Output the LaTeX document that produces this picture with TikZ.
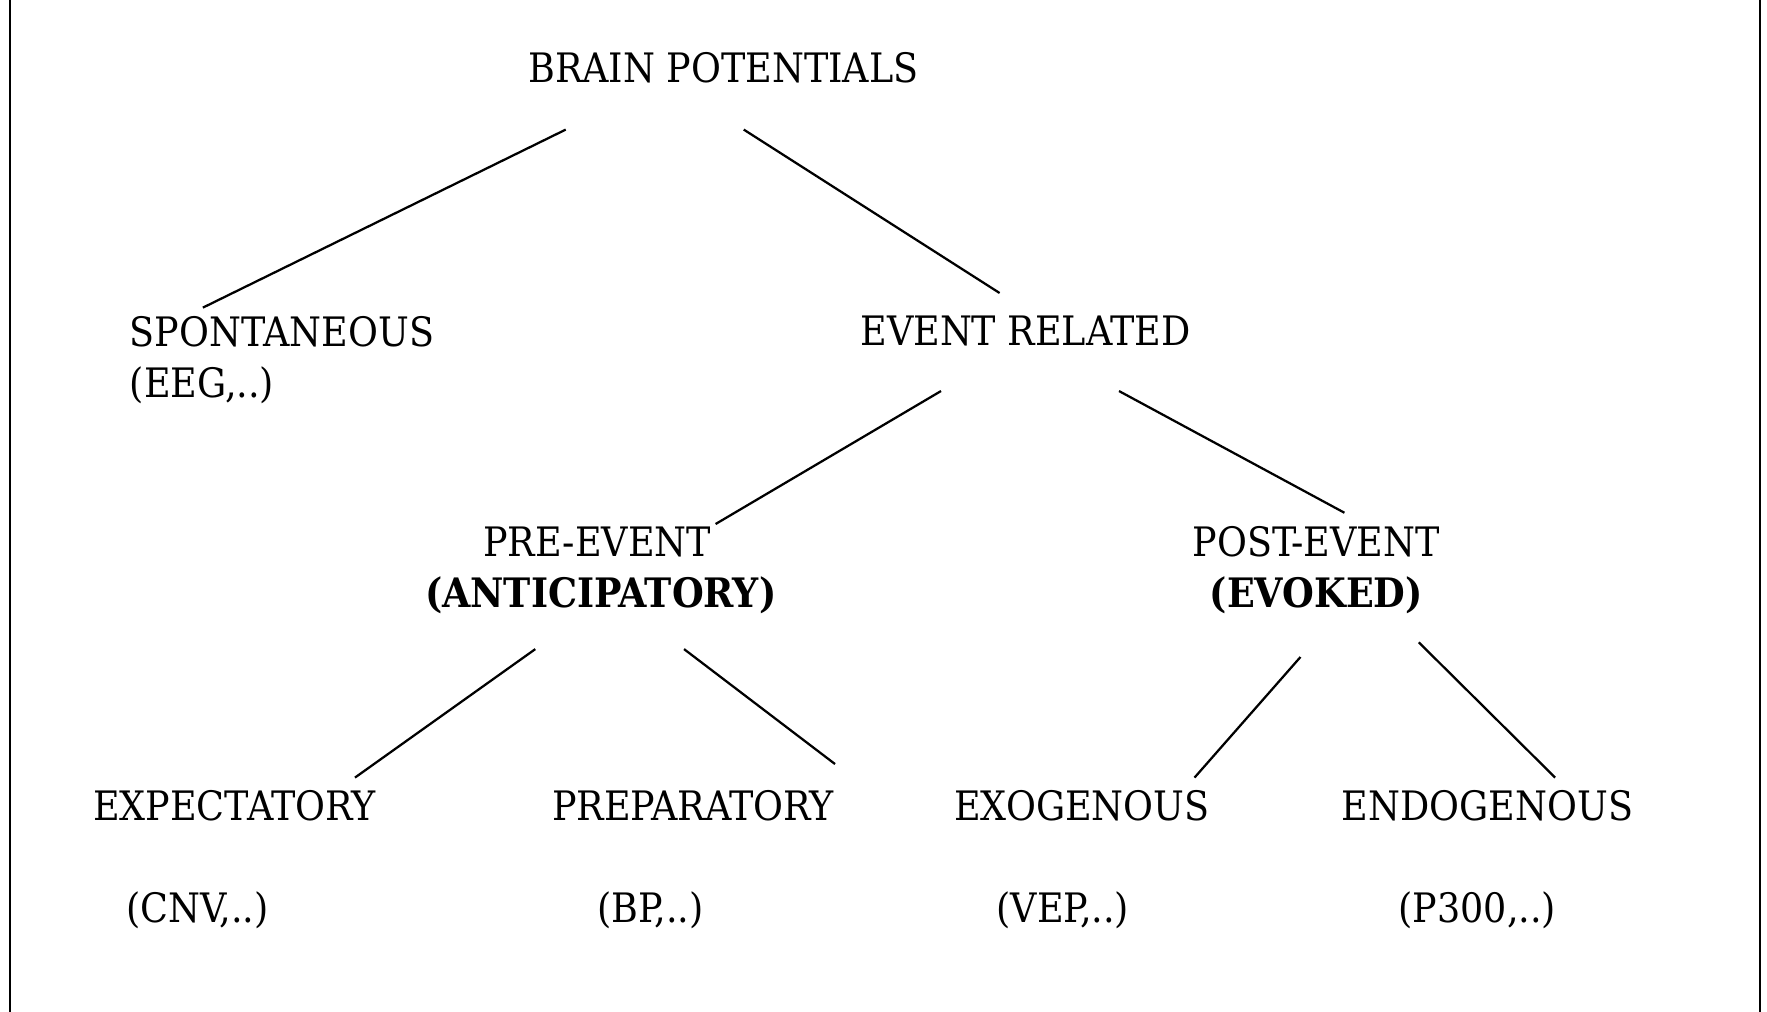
\documentclass[tikz,border=0pt]{standalone}
\usepackage{fontspec}
\setmainfont{DejaVu Serif Condensed}
\begin{document}
\begin{tikzpicture}[x=1pt,y=-1pt,
  lbl/.style={inner sep=0pt,font=\fontsize{36}{40}\selectfont},
  bl/.style={lbl,font=\fontsize{36}{40}\selectfont\bfseries},
  edge/.style={line width=2pt}]
\useasboundingbox (0,0) rectangle (1568,898);
\draw[line width=2pt] (9,0) -- (9,898);
\draw[line width=2pt] (1562,0) -- (1562,898);
\node[lbl] (bp) at (642,60) {BRAIN POTENTIALS};
\node[lbl,anchor=west] (sp) at (115,294) {SPONTANEOUS};
\node[lbl,anchor=west] (eeg) at (115,342) {(EEG,..)};
\node[lbl] (er) at (910,294) {EVENT RELATED};
\node[lbl] (pre) at (530,481) {PRE-EVENT};
\node[bl] (ant) at (533,528) {(ANTICIPATORY)};
\node[lbl] (post) at (1168,481) {POST-EVENT};
\node[bl] (evo) at (1168,528) {(EVOKED)};
\node[lbl] (exp) at (208,715) {EXPECTATORY};
\node[lbl] (prep) at (615,715) {PREPARATORY};
\node[lbl] (exo) at (960,715) {EXOGENOUS};
\node[lbl] (endo) at (1320,715) {ENDOGENOUS};
\node[lbl] (cnv) at (175,808) {(CNV,..)};
\node[lbl] (bpp) at (577,808) {(BP,..)};
\node[lbl] (vep) at (943,808) {(VEP,..)};
\node[lbl] (p3) at (1311,808) {(P300,..)};
\coordinate (a1) at (502,115); \coordinate (a2) at (180,273);
\coordinate (b1) at (660,115); \coordinate (b2) at (887,260);
\coordinate (c1) at (835,347); \coordinate (c2) at (635,465);
\coordinate (d1) at (993,347); \coordinate (d2) at (1193,455);
\coordinate (e1) at (475,576); \coordinate (e2) at (315,690);
\coordinate (f1) at (607,576); \coordinate (f2) at (741,678);
\coordinate (g1) at (1154,583); \coordinate (g2) at (1060,690);
\coordinate (h1) at (1259,570); \coordinate (h2) at (1380,690);
\draw[edge] (a1)--(a2); \draw[edge] (b1)--(b2);
\draw[edge] (c1)--(c2); \draw[edge] (d1)--(d2);
\draw[edge] (e1)--(e2); \draw[edge] (f1)--(f2);
\draw[edge] (g1)--(g2); \draw[edge] (h1)--(h2);
\end{tikzpicture}
\end{document}
